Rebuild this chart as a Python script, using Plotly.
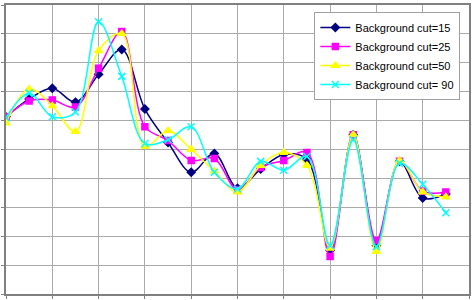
import plotly.graph_objects as go

x_index = list(range(20))

cut15 = [6.13, 6.75, 7.12, 6.64, 7.60, 8.46, 6.40, 5.24, 4.21, 4.86,
         3.66, 4.32, 4.83, 4.66, 1.51, 5.51, 1.68, 4.59, 3.32, 3.46]
cut25 = [6.13, 6.68, 6.71, 6.47, 7.81, 9.08, 5.79, 5.31, 4.62, 4.69,
         3.60, 4.38, 4.62, 4.90, 1.30, 5.51, 1.85, 4.59, 3.56, 3.53]
cut50 = [5.92, 7.09, 6.51, 5.62, 8.42, 9.01, 5.10, 5.65, 5.00, 4.25,
         3.53, 4.45, 4.90, 4.45, 1.58, 5.51, 1.47, 4.62, 3.53, 3.36]
cut90 = [6.10, 6.95, 6.13, 6.30, 9.42, 7.53, 5.21, 5.34, 5.79, 4.21,
         3.63, 4.59, 4.28, 4.76, 1.68, 5.34, 1.64, 4.52, 3.80, 2.81]

names = ["Background cut=15", "Background cut=25", "Background cut=50", "Background cut= 90"]
series = [cut15, cut25, cut50, cut90]
colors = ["#000080", "#FF00FF", "#FFFF00", "#00FFFF"]
symbols = ["diamond", "square", "triangle-up", "x-thin"]
msizes = [6, 6, 7, 7]

fig = go.Figure()
for name, ys, c, s, ms in zip(names, series, colors, symbols, msizes):
    fig.add_trace(go.Scatter(
        x=x_index, y=ys, name=name, mode="lines+markers",
        line=dict(color=c, width=1.5, shape="spline", smoothing=1),
        marker=dict(symbol=s, size=ms, color=c, line=dict(color=c, width=1.5)),
    ))

fig.update_layout(
    width=474, height=300,
    margin=dict(l=3, r=4, t=4, b=4),
    paper_bgcolor="white", plot_bgcolor="white",
    font=dict(family="Liberation Sans, Arial", size=11, color="black"),
    showlegend=True,
    legend=dict(x=0.666, y=0.976, xanchor="left", yanchor="top",
                bgcolor="white", bordercolor="#a0a0a0", borderwidth=1,
                font=dict(size=11), tracegroupgap=0, itemwidth=30),
)
fig.update_xaxes(range=[0, 20], dtick=2, tick0=0, showticklabels=False,
                 showgrid=True, gridcolor="#aaaaaa", gridwidth=1,
                 showline=True, linecolor="#808080", linewidth=1.5, mirror=True,
                 ticks="outside", ticklen=3, tickcolor="#808080", zeroline=False)
fig.update_yaxes(range=[0, 10], dtick=1, tick0=0, showticklabels=False,
                 showgrid=True, gridcolor="#aaaaaa", gridwidth=1,
                 showline=True, linecolor="#808080", linewidth=1.5, mirror=True,
                 ticks="outside", ticklen=3, tickcolor="#808080", zeroline=False)

fig.write_html("out.html")
